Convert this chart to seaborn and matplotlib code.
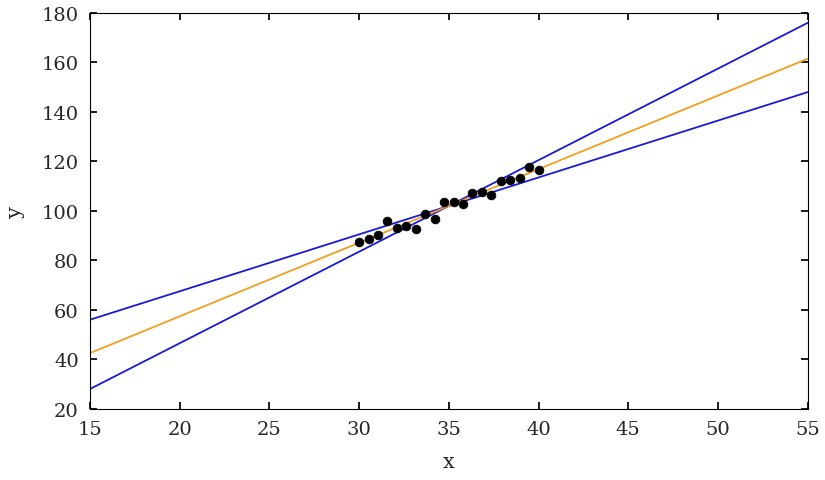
import numpy as np
import matplotlib
matplotlib.use("Agg")
import matplotlib.pyplot as plt
import seaborn as sns

sns.set_theme(style="white")
plt.rcParams['font.family'] = ['DejaVu Serif']

# data points
x_pts = np.linspace(30, 40, 20)
y_pts = [87.5, 88.7, 90.3, 96.0, 93.1, 93.9, 92.7, 98.8, 96.8, 103.6,
         103.6, 102.8, 107.3, 107.7, 106.5, 112.1, 112.5, 113.3, 117.8, 116.6]

# fit line and bounds (endpoints at x=15 and x=55)
line_x = [15, 55]
fit_y = [42.5, 161.5]
shallow_y = [56, 148]
steep_y = [28, 176]

fig, ax = plt.subplots(figsize=(8.25, 4.81), dpi=100)
sns.lineplot(x=line_x, y=shallow_y, ax=ax, color="#1a1ad6", lw=1.3)
sns.lineplot(x=line_x, y=steep_y, ax=ax, color="#1a1ad6", lw=1.3)
sns.lineplot(x=line_x, y=fit_y, ax=ax, color="#f0a020", lw=1.3)
sns.scatterplot(x=x_pts, y=y_pts, ax=ax, color="black", s=40, edgecolor="black", zorder=5)

ax.set_xlim(15, 55)
ax.set_ylim(20, 180)
ax.set_xticks(range(15, 56, 5))
ax.set_yticks(range(20, 181, 20))
ax.set_xlabel("x", fontsize=15, labelpad=10)
ax.set_ylabel("y", fontsize=15, labelpad=12)
ax.tick_params(direction="in", length=5, labelsize=14, top=True, right=True,
               bottom=True, left=True, color="black", pad=8)
for s in ax.spines.values():
    s.set_color("black")
    s.set_linewidth(0.8)

fig.subplots_adjust(left=0.109, right=0.979, top=0.971, bottom=0.148)
fig.savefig("out.png")
